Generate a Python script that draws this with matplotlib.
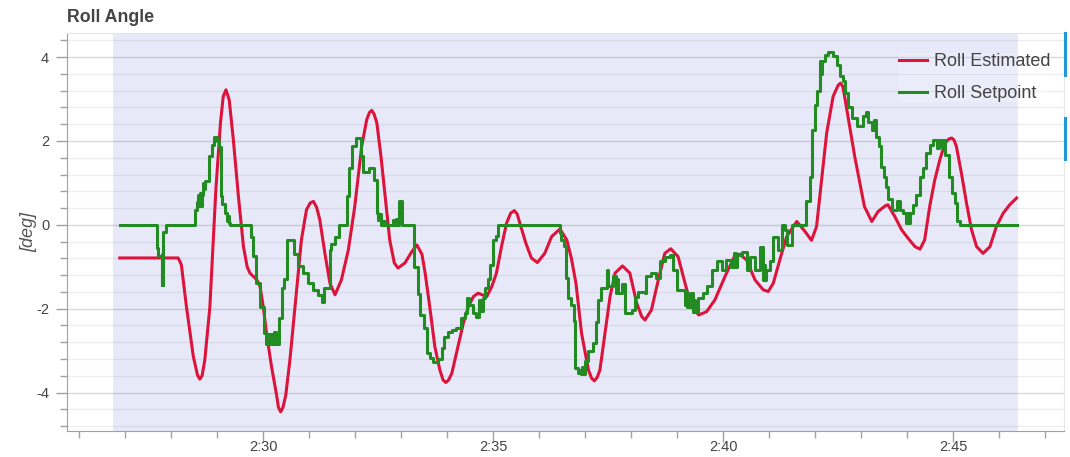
import matplotlib
matplotlib.use("Agg")
import matplotlib.pyplot as plt
from matplotlib.ticker import MultipleLocator, FuncFormatter
from matplotlib.lines import Line2D

plt.rcParams['font.family'] = ['Liberation Sans', 'DejaVu Sans']
plt.rcParams['axes.unicode_minus'] = False

# time in seconds, roll in degrees
est_t = [146.88, 147.5, 148.15, 148.22, 148.33, 148.48, 148.57, 148.62, 148.67, 148.73, 148.84,
         148.97, 149.07, 149.13, 149.19, 149.26, 149.35, 149.46, 149.57, 149.65, 149.71,
         149.86, 149.93, 150.0, 150.07, 150.18, 150.29, 150.33, 150.38, 150.43, 150.49, 150.58, 150.69,
         150.83, 150.94, 151.02, 151.09, 151.16, 151.23, 151.34, 151.45, 151.56, 151.70, 151.85, 151.99,
         152.14, 152.25, 152.31, 152.36, 152.41, 152.47, 152.56, 152.65, 152.75, 152.85, 152.93, 153.08,
         153.23, 153.34, 153.45, 153.52, 153.62, 153.73, 153.84, 153.91, 153.97, 154.03, 154.10, 154.20,
         154.35, 154.46, 154.57, 154.67, 154.86, 154.97, 155.07, 155.18, 155.29, 155.38, 155.46,
         155.52, 155.58, 155.71, 155.83, 155.96, 156.12, 156.27, 156.45, 156.60, 156.70, 156.80,
         156.92, 157.07, 157.14, 157.20, 157.26, 157.32, 157.43, 157.54, 157.65, 157.81, 157.97, 158.12,
         158.23, 158.30, 158.44, 158.59, 158.73, 158.86, 159.02, 159.17, 159.31, 159.47,
         159.64, 159.82, 160.04, 160.25, 160.36, 160.51, 160.69, 160.87, 160.98, 161.09,
         161.23, 161.38, 161.60, 161.78, 161.92, 162.03, 162.14, 162.25, 162.39, 162.50, 162.55,
         162.60, 162.64, 162.75, 162.86, 162.97, 163.07, 163.23, 163.37, 163.52, 163.58, 163.73,
         163.88, 164.02, 164.17, 164.28, 164.38, 164.49, 164.60, 164.71, 164.82, 164.91, 164.97,
         165.02, 165.07, 165.18, 165.29, 165.40, 165.51, 165.65, 165.80, 165.94, 166.09, 166.23,
         166.38]
est_deg = [-0.79, -0.79, -0.79, -0.95, -1.95, -3.14, -3.58, -3.68, -3.60, -3.22, -1.95,
           0.84, 2.43, 3.06, 3.22, 2.98, 2.03, 0.68, -0.52, -1.0, -1.15,
           -1.31, -1.47, -1.95, -2.58, -3.38, -4.06, -4.35, -4.46, -4.35, -4.06, -3.22, -1.95,
           -0.36, 0.36, 0.52, 0.56, 0.42, 0.12, -0.68, -1.39, -1.67, -1.31, -0.60, 0.44,
           1.87, 2.51, 2.68, 2.73, 2.64, 2.43, 1.63, 0.68, -0.36, -0.91, -1.03, -0.91,
           -0.64, -0.48, -0.70, -1.15, -1.95, -2.90, -3.46, -3.70, -3.76, -3.70, -3.54, -3.06,
           -2.35, -1.95, -1.71, -1.63, -1.71, -1.47, -1.15, -0.52, 0.04, 0.28, 0.34,
           0.26, 0.04, -0.44, -0.79, -0.90, -0.68, -0.28, -0.10, -0.36, -0.80, -1.40,
           -2.58, -3.46, -3.66, -3.72, -3.64, -3.46, -2.58, -1.71, -1.15, -0.98, -1.15, -1.87,
           -2.19, -2.27, -2.03, -1.31, -0.68, -0.57, -0.76, -1.39, -1.95, -2.15,
           -2.07, -1.79, -1.23, -0.74, -0.70, -0.84, -1.31, -1.55, -1.59, -1.39,
           -0.84, -0.28, 0.08, -0.16, -0.37, -0.04, 1.07, 2.19, 3.06, 3.33, 3.38,
           3.30, 3.06, 2.35, 1.63, 1.0, 0.44, 0.08, 0.32, 0.45, 0.48, 0.20,
           -0.12, -0.32, -0.52, -0.58, -0.36, 0.44, 1.07, 1.55, 1.95, 2.05, 2.07,
           2.02, 1.87, 1.23, 0.52, -0.12, -0.52, -0.68, -0.52, -0.04, 0.28, 0.48,
           0.64]

sp_t = [146.88, 147.68, 147.72, 147.79, 147.80, 147.81, 147.82, 147.83, 147.89, 148.52,
        148.56, 148.59, 148.61, 148.63, 148.65, 148.67, 148.70, 148.72, 148.74, 148.81,
        148.88, 148.93, 148.99, 149.03, 149.08, 149.11, 149.17, 149.22, 149.24, 149.26,
        149.28, 149.73, 149.78, 149.84, 149.94, 150.02, 150.05, 150.08, 150.12, 150.16,
        150.20, 150.24, 150.27, 150.34, 150.40, 150.46, 150.52, 150.67, 150.76, 150.87,
        150.97, 151.09, 151.20, 151.27, 151.33, 151.45, 151.47, 151.57, 151.65, 151.82,
        151.87, 151.92, 152.01, 152.12, 152.16, 152.30, 152.41, 152.47, 152.50, 152.53,
        152.56, 152.60, 152.65, 152.82, 152.84, 152.88, 152.90, 152.96, 153.01, 153.28,
        153.36, 153.41, 153.49, 153.55, 153.62, 153.70, 153.80, 153.88, 153.93, 154.02,
        154.10, 154.20, 154.31, 154.38, 154.42, 154.48, 154.57, 154.63, 154.70, 154.72,
        154.74, 154.76, 154.78, 154.82, 154.89, 154.94, 155.00, 155.06, 155.11, 156.45,
        156.48, 156.54, 156.58, 156.63, 156.70, 156.75, 156.78, 156.85, 156.88, 156.91,
        156.94, 156.97, 156.99, 157.07, 157.17, 157.23, 157.28, 157.34, 157.47, 157.49,
        157.60, 157.68, 157.70, 157.72, 157.79, 157.86, 158.01, 158.08, 158.15, 158.30,
        158.33, 158.44, 158.55, 158.62, 158.73, 158.84, 158.91, 158.99, 159.17, 159.19,
        159.21, 159.28, 159.35, 159.37, 159.39, 159.46, 159.56, 159.64, 159.75, 159.86,
        159.97, 160.07, 160.18, 160.24, 160.27, 160.30, 160.40, 160.51, 160.58, 160.69,
        160.80, 160.86, 160.88, 160.90, 160.94, 161.02, 161.09, 161.20, 161.27, 161.34,
        161.39, 161.49, 161.81, 161.88, 161.94, 161.99, 162.04, 162.10, 162.12, 162.14,
        162.21, 162.27, 162.39, 162.47, 162.53, 162.61, 162.64, 162.72, 162.79, 162.90,
        163.03, 163.10, 163.15, 163.23, 163.28, 163.33, 163.39, 163.44, 163.49, 163.54,
        163.58, 163.66, 163.77, 163.84, 163.91, 163.97, 163.99, 164.01, 164.06, 164.13,
        164.20, 164.28, 164.35, 164.42, 164.49, 164.57, 164.64, 164.69, 164.75, 164.78,
        164.82, 164.91, 164.97, 165.04, 165.08, 165.15, 166.38]
sp_deg = [0.0, -0.56, -0.75, -1.43, -0.70, -1.43, -0.80, -0.16, 0.0, 0.36,
          0.55, 0.72, 0.45, 0.75, 0.45, 0.70, 1.0, 0.85, 1.05, 1.63,
          1.91, 2.10, 1.99, 1.85, 0.68, 0.50, 0.28, 0.10, 0.20, 0.05,
          0.0, -0.30, -0.75, -1.38, -1.95, -2.58, -2.85, -2.60, -2.85, -2.60,
          -2.85, -2.55, -2.85, -2.22, -1.50, -1.30, -0.36, -0.70, -0.98, -1.15,
          -1.39, -1.55, -1.68, -1.85, -1.50, -0.60, -0.45, -0.30, 0.0, 0.68,
          1.35, 1.87, 2.07, 1.63, 1.27, 1.35, 1.07, 0.28, 0.12, 0.25,
          0.0, 0.10, 0.0, 0.12, 0.0, 0.15, 0.0, 0.56, 0.0, -1.0,
          -1.65, -2.15, -2.45, -3.06, -3.18, -3.26, -3.20, -2.94, -2.67, -2.55,
          -2.50, -2.47, -2.23, -2.10, -1.75, -1.90, -2.10, -2.20, -1.80, -2.05,
          -1.80, -2.05, -1.75, -1.51, -1.30, -0.95, -0.36, -0.26, 0.0, -0.20,
          -0.36, -0.50, -1.27, -1.75, -1.90, -2.30, -3.42, -3.54, -3.45, -3.55,
          -3.40, -3.55, -3.25, -3.02, -2.82, -2.31, -1.79, -1.51, -1.07, -1.47,
          -1.23, -1.63, -1.30, -1.63, -1.40, -2.11, -2.03, -1.72, -1.59, -1.63,
          -1.23, -1.15, -1.27, -0.87, -0.76, -0.72, -1.07, -1.55, -1.91, -1.60,
          -1.95, -1.63, -2.07, -1.80, -2.07, -1.75, -1.63, -1.47, -1.07, -0.87,
          -1.07, -0.83, -1.0, -0.68, -1.0, -0.72, -0.64, -1.07, -0.76, -1.07,
          -0.52, -1.31, -0.95, -1.31, -1.07, -0.87, -0.28, -0.60, 0.0, -0.12,
          -0.48, 0.0, 0.56, 1.15, 2.27, 2.86, 3.18, 3.90, 3.60, 3.90,
          4.06, 4.12, 4.02, 3.82, 3.54, 3.42, 3.14, 2.82, 2.55, 2.36,
          2.60, 2.70, 2.45, 2.27, 2.50, 2.10, 1.87, 1.39, 1.15, 0.91,
          0.62, 0.36, 0.56, 0.36, 0.28, 0.04, 0.28, 0.04, 0.28, 0.48,
          0.72, 1.15, 1.35, 1.71, 1.91, 2.03, 1.83, 2.03, 1.85, 2.03,
          1.67, 1.15, 0.75, 0.52, 0.08, 0.0, 0.0]

span_start, span_end = 146.73, 166.41
x_min, x_max = 145.74, 167.41
y_min, y_max = -4.91, 4.575


def mmss(v, pos):
    return "%d:%02d" % (int(v // 60), int(round(v % 60)))


fig = plt.figure(figsize=(10.7, 4.57), dpi=100)
ax = fig.add_axes([0.0629, 0.0575, 0.9315, 0.8703])

ax.set_axisbelow(True)
ax.yaxis.grid(True, which='major', color='#d9d9d9', lw=1.0)
ax.yaxis.grid(True, which='minor', color='#eeeeee', lw=1.0)
ax.axvspan(span_start, span_end, color='#4050d0', alpha=0.12, lw=0, zorder=1)

ax.plot(est_t, est_deg, color='#dc143c', lw=2.2, label='Roll Estimated', zorder=3)
ax.plot(sp_t, sp_deg, color='#228b22', lw=2.2, drawstyle='steps-post',
        label='Roll Setpoint', zorder=4)

ax.set_xlim(x_min, x_max)
ax.set_ylim(y_min, y_max)
ax.xaxis.set_major_locator(MultipleLocator(5))
ax.xaxis.set_minor_locator(MultipleLocator(1))
ax.xaxis.set_major_formatter(FuncFormatter(mmss))
ax.yaxis.set_major_locator(MultipleLocator(2))
ax.yaxis.set_minor_locator(MultipleLocator(0.4))

for s in ['left', 'bottom']:
    ax.spines[s].set_color('#a0a0a0')
for s in ['top', 'right']:
    ax.spines[s].set_color('#e6e6e6')
ax.tick_params(which='major', length=8, width=1, color='#a0a0a0',
               labelsize=10.5, labelcolor='#444444')
ax.tick_params(which='minor', length=5, width=1, color='#a0a0a0')
ax.tick_params(axis='x', which='major', pad=-1.5)
ax.tick_params(axis='y', which='major', pad=5)

ax.set_title('Roll Angle', loc='left', fontsize=12.8, fontweight='bold',
             color='#444444', pad=8)
ax.set_ylabel('[deg]', fontsize=13, fontstyle='italic', color='#555555')
ax.yaxis.set_label_coords(-0.030, 0.5)

leg = ax.legend(loc='upper left', bbox_to_anchor=(0.8344, 0.949), fontsize=13,
                frameon=True, borderpad=0, borderaxespad=0, handlelength=1.55,
                handletextpad=0.4, labelspacing=0.82, labelcolor='#444444')
leg.get_frame().set_facecolor('white')
leg.get_frame().set_alpha(0.2)
leg.get_frame().set_edgecolor('none')

# blue markers on the right edge
fig.add_artist(Line2D([1064.5 / 1070] * 2, [1 - 33 / 457, 1 - 75 / 457],
                      color='#1f9ad6', lw=2.2))
fig.add_artist(Line2D([1064.5 / 1070] * 2, [1 - 118 / 457, 1 - 159 / 457],
                      color='#1f9ad6', lw=2.2))

fig.savefig('out.png', dpi=100)
